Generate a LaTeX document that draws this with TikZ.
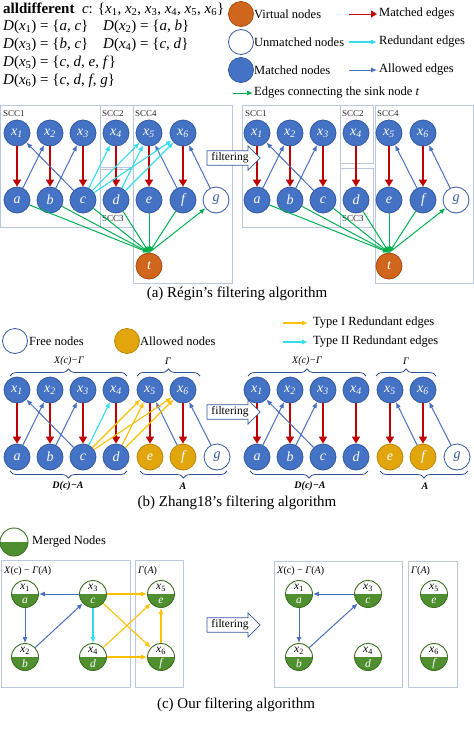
\documentclass[tikz,border=0pt]{standalone}
\usepackage{fontspec}
\setmainfont{Liberation Serif}
\usetikzlibrary{arrows.meta,shapes.arrows,decorations.pathreplacing,calc}
\definecolor{nblue}{HTML}{4472C4}
\definecolor{nblueD}{HTML}{34599E}
\definecolor{mred}{HTML}{C00000}
\definecolor{rcyan}{HTML}{33DDEE}
\definecolor{ablue}{HTML}{4A6FC0}
\definecolor{sgreen}{HTML}{00B050}
\definecolor{gold}{HTML}{E2A60C}
\definecolor{goldD}{HTML}{B8860B}
\definecolor{yedgec}{HTML}{FFC000}
\definecolor{tor}{HTML}{D0651C}
\definecolor{torD}{HTML}{A84A10}
\definecolor{boxc}{HTML}{B8C8E0}
\definecolor{mgM}{HTML}{4F8F2F}
\definecolor{mgD}{HTML}{3C7022}
\definecolor{braceb}{HTML}{2F4F8F}
\newcommand{\fsz}[1]{\fontsize{#1}{#1}\selectfont}
\newcommand{\vx}[1]{\textit{x}\textsubscript{#1}}
\tikzset{
  nd/.style={circle, minimum size=26pt, inner sep=0pt, line width=0.8pt, font=\fsz{14}\itshape},
  mb/.style={nd, fill=nblue, draw=nblueD, text=white},
  ub/.style={nd, fill=white, draw=nblueD, text=nblueD},
  gb/.style={nd, fill=gold, draw=goldD, text=white},
  tb/.style={nd, fill=tor, draw=torD, text=white},
  mg/.style={circle, minimum size=27pt, inner sep=0pt, draw=mgD, line width=0.9pt, fill=white,
    path picture={\fill[mgM] (path picture bounding box.west) rectangle (path picture bounding box.south east);}},
  mgtop/.style={inner sep=0pt, font=\fsz{11.5}, text=black},
  mgbot/.style={inner sep=0pt, font=\fsz{11.5}\itshape, text=white},
  medge/.style={draw=mred, line width=1.6pt, -{Triangle[width=8pt,length=7pt]}},
  medgeL/.style={draw=mred, line width=1pt, -{Triangle[width=7pt,length=6pt]}},
  aedge/.style={draw=ablue, line width=1pt, -{Latex[length=6pt,width=5pt]}},
  redge/.style={draw=rcyan, line width=1.1pt, -{Latex[length=6pt,width=5pt]}},
  yedge/.style={draw=yedgec, line width=1.1pt, -{Latex[length=6pt,width=5pt]}},
  sedge/.style={draw=sgreen, line width=1pt, -{Latex[length=6pt,width=5pt]}},
  sccbox/.style={draw=boxc, line width=0.9pt},
  scclab/.style={anchor=west, inner sep=0pt, font=\fsz{9}, text=black!85},
  tl/.style={anchor=west, inner sep=0pt, font=\fsz{15}},
  lg/.style={anchor=west, inner sep=0pt, font=\fsz{12.5}},
  captxt/.style={inner sep=0pt, font=\fsz{15}},
  filt/.style={single arrow, draw=nblueD, fill=white, line width=0.8pt, minimum height=53pt,
    single arrow head extend=5pt, inner sep=1.5pt, font=\fsz{11.5}, text=black},
  brc/.style={draw=braceb, line width=0.8pt, decorate, decoration={brace, amplitude=7pt}},
  brlab/.style={inner sep=0pt, font=\fsz{10}\itshape},
  arlab/.style={anchor=west, inner sep=0pt, font=\fsz{10}},
}
\begin{document}
\begin{tikzpicture}[x=1pt,y=-1pt]
\useasboundingbox (0,0) rectangle (474,737);

% ---------- header text
\node[tl] (hd0) at (3,9) {\textbf{alldifferent}\ \ \textit{c}: \{\vx{1}, \vx{2}, \vx{3}, \vx{4}, \vx{5}, \vx{6}\}};
\node[tl] (hd1) at (3,27) {\textit{D}(\vx{1}) = \{\textit{a}, \textit{c}\}};
\node[tl] (hd2) at (103,27) {\textit{D}(\vx{2}) = \{\textit{a}, \textit{b}\}};
\node[tl] (hd3) at (3,45) {\textit{D}(\vx{3}) = \{\textit{b}, \textit{c}\}};
\node[tl] (hd4) at (103,45) {\textit{D}(\vx{4}) = \{\textit{c}, \textit{d}\}};
\node[tl] (hd5) at (3,63) {\textit{D}(\vx{5}) = \{\textit{c}, \textit{d}, \textit{e}, \textit{f}\}};
\node[tl] (hd6) at (3,81) {\textit{D}(\vx{6}) = \{\textit{c}, \textit{d}, \textit{f}, \textit{g}\}};

% ---------- legend (a)
\node[tb, minimum size=25pt] (lgv) at (241,14) {};
\node[lg] (lgvt) at (254,14) {Virtual nodes};
\node[ub, minimum size=25pt] (lgu) at (241,42) {};
\node[lg] (lgut) at (254,42) {Unmatched nodes};
\node[mb, minimum size=25pt] (lgm) at (241,70) {};
\node[lg] (lgmt) at (254,70) {Matched nodes};
\coordinate (lr1) at (349,14); \coordinate (lr2) at (377,14);
\draw[medgeL] (lr1) -- (lr2);
\node[lg] (lrt) at (379,14) {Matched edges};
\coordinate (lc1) at (349,42); \coordinate (lc2) at (377,42);
\draw[redge] (lc1) -- (lc2);
\node[lg] (lct) at (379,42) {Redundant edges};
\coordinate (lb1) at (349,70); \coordinate (lb2) at (377,70);
\draw[aedge] (lb1) -- (lb2);
\node[lg] (lbt) at (379,70) {Allowed edges};
\coordinate (lsg1) at (233,93); \coordinate (lsg2) at (253,93);
\draw[sedge] (lsg1) -- (lsg2);
\node[lg] (lsgt) at (254,93) {Edges connecting the sink node \textit{t}};

% ---------- (a) boxes
\draw[sccbox] (0.5,105) rectangle (100,227);
\draw[sccbox] (100,105) rectangle (133,167);
\draw[sccbox] (100,169) rectangle (133,227);
\draw[sccbox] (133,105) rectangle (232,283);
\node[scclab] (s1l) at (3,114) {SCC1};
\node[scclab] (s2l) at (102,114) {SCC2};
\node[scclab] (s4l) at (135,114) {SCC4};
\node[scclab] (s3l) at (102,219) {SCC3};
\draw[sccbox] (242,105) rectangle (340,227);
\draw[sccbox] (340,105) rectangle (373,163);
\draw[sccbox] (340,168) rectangle (373,227);
\draw[sccbox] (375,105) rectangle (473,283);
\node[scclab] (s1r) at (245,114) {SCC1};
\node[scclab] (s2r) at (342,114) {SCC2};
\node[scclab] (s4r) at (377,114) {SCC4};
\node[scclab] (s3r) at (342,219) {SCC3};

% ---------- (a) graphs
\foreach \P/\dx in {AL/0,AR/240}{
  \foreach \i/\xx in {1/17,2/50,3/83,4/116,5/149,6/183}
    \node[mb] (\P x\i) at (\dx+\xx,133) {\vx{\i}};
  \foreach \n/\xx in {a/17,b/50,c/83,d/116,e/149,f/183}
    \node[mb] (\P\n) at (\dx+\xx,200) {\n};
  \node[ub] (\P g) at (\dx+216,200) {g};
  \node[tb] (\P t) at (\dx+149,266) {t};
  \foreach \i/\n in {1/a,2/b,3/c,4/d,5/e,6/f}
    \draw[medge] (\P x\i) -- (\P\n);
  \draw[aedge] (\P a) -- (\P x2);
  \draw[aedge] (\P b) -- (\P x3);
  \draw[aedge] (\P c) -- (\P x1);
  \draw[aedge] (\P f) -- (\P x5);
  \draw[aedge] (\P g) -- (\P x6);
  \foreach \n in {a,b,c,d,e,f}
    \draw[sedge] (\P\n) -- (\P t.north);
  \draw[sedge] (\P t.north) -- (\P g);
}
\draw[redge] (ALc) -- (ALx4);
\draw[redge] (ALc) -- (ALx5);
\draw[redge] (ALc) -- (ALx6);
\draw[redge] (ALd) -- (ALx5);
\draw[redge] (ALd) -- (ALx6);
\node[filt] (fa) at (230,158) {filtering};
\node[captxt] (capa) at (237,294) {(a) Régin’s filtering algorithm};

% ---------- legend (b)
\node[ub, minimum size=25pt] (lgf) at (15,341) {};
\node[lg] (lgft) at (29,341) {Free nodes};
\node[gb, minimum size=25pt] (lga) at (127,341) {};
\node[lg] (lgat) at (140,341) {Allowed nodes};
\coordinate (ly1) at (283,323); \coordinate (ly2) at (308,323);
\draw[yedge] (ly1) -- (ly2);
\node[lg] (lyt) at (313,323) {Type I Redundant edges};
\coordinate (lq1) at (283,342); \coordinate (lq2) at (308,342);
\draw[redge] (lq1) -- (lq2);
\node[lg] (lqt) at (313,342) {Type II Redundant edges};

% ---------- (b) graphs
\foreach \P/\dx in {BL/0,BR/240}{
  \foreach \i/\xx in {1/17,2/50,3/83,4/116,5/150,6/183}
    \node[mb] (\P x\i) at (\dx+\xx,390) {\vx{\i}};
  \foreach \n/\xx in {a/17,b/50,c/83,d/116}
    \node[mb] (\P\n) at (\dx+\xx,457) {\n};
  \foreach \n/\xx in {e/150,f/183}
    \node[gb] (\P\n) at (\dx+\xx,457) {\n};
  \node[ub] (\P g) at (\dx+217,457) {g};
  \foreach \i/\n in {1/a,2/b,3/c,4/d,5/e,6/f}
    \draw[medge] (\P x\i) -- (\P\n);
  \draw[aedge] (\P a) -- (\P x2);
  \draw[aedge] (\P b) -- (\P x3);
  \draw[aedge] (\P c) -- (\P x1);
  \draw[aedge] (\P f) -- (\P x5);
  \draw[aedge] (\P g) -- (\P x6);
}
\draw[redge] (BLc) -- (BLx4);
\draw[yedge] (BLc) -- (BLx5);
\draw[yedge] (BLc) -- (BLx6);
\draw[yedge] (BLd) -- (BLx5);
\draw[yedge] (BLd) -- (BLx6);
\node[filt] (fb) at (230,412) {filtering};

% braces (b)
\coordinate (bt1a) at (10,376);  \coordinate (bt1b) at (127,376);
\coordinate (bt2a) at (137,376); \coordinate (bt2b) at (200,376);
\coordinate (bt3a) at (248,376); \coordinate (bt3b) at (366,376);
\coordinate (bt4a) at (376,376); \coordinate (bt4b) at (436,376);
\draw[brc] (bt1a) -- (bt1b);
\draw[brc] (bt2a) -- (bt2b);
\draw[brc] (bt3a) -- (bt3b);
\draw[brc] (bt4a) -- (bt4b);
\node[brlab] (btl1) at (69,361) {X(c)−Γ};
\node[brlab] (btl2) at (168,361) {Γ};
\node[brlab] (btl3) at (307,361) {X(c)−Γ};
\node[brlab] (btl4) at (406,361) {Γ};
\coordinate (bb1a) at (10,471);  \coordinate (bb1b) at (127,471);
\coordinate (bb2a) at (140,471); \coordinate (bb2b) at (227,471);
\coordinate (bb3a) at (250,471); \coordinate (bb3b) at (368,471);
\coordinate (bb4a) at (380,471); \coordinate (bb4b) at (468,471);
\draw[brc] (bb1b) -- (bb1a);
\draw[brc] (bb2b) -- (bb2a);
\draw[brc] (bb3b) -- (bb3a);
\draw[brc] (bb4b) -- (bb4a);
\node[brlab, font=\fsz{10}\bfseries\itshape] (bbl1) at (68,486) {D(c)−A};
\node[brlab, font=\fsz{10}\bfseries\itshape] (bbl2) at (183,486) {A};
\node[brlab, font=\fsz{10}\bfseries\itshape] (bbl3) at (310,486) {D(c)−A};
\node[brlab, font=\fsz{10}\bfseries\itshape] (bbl4) at (425,486) {A};
\node[captxt] (capb) at (237,503) {(b) Zhang18’s filtering algorithm};

% ---------- legend (c)
\node[mg, minimum size=28pt] (lgmg) at (14,542) {};
\node[lg] (lgmgt) at (32,542) {Merged Nodes};

% ---------- (c) boxes
\draw[sccbox] (1,560) rectangle (130,687);
\draw[sccbox] (135,560) rectangle (183,687);
\draw[sccbox] (274,561) rectangle (402,687);
\draw[sccbox] (408,561) rectangle (457,687);
\node[arlab] (cl1) at (4,571) {\textit{X}(c) − \textit{Γ}(\textit{A})};
\node[arlab] (cl2) at (138,571) {\textit{Γ}(\textit{A})};
\node[arlab] (cl3) at (277,571) {\textit{X}(c) − \textit{Γ}(\textit{A})};
\node[arlab] (cl4) at (411,571) {\textit{Γ}(\textit{A})};

% ---------- (c) graphs
\foreach \P/\xa/\xb/\xc in {CL/25/93/161,CR/299/368/434}{
  \foreach \i/\n/\xx/\yy in {1/a/\xa/594,3/c/\xb/594,5/e/\xc/594,2/b/\xa/657,4/d/\xb/657,6/f/\xc/657}{
    \node[mg] (\P m\i) at (\xx,\yy) {};
    \node[mgtop] (\P m\i t) at ([yshift=6.5pt]\P m\i.center) {\vx{\i}};
    \node[mgbot] (\P m\i b) at ([yshift=-6.5pt]\P m\i.center) {\n};
  }
  \draw[aedge] (\P m3) -- (\P m1);
  \draw[aedge] (\P m1) -- (\P m2);
  \draw[aedge] (\P m2) -- (\P m3);
}
\draw[redge] (CLm3) -- (CLm4);
\draw[yedge] (CLm3) -- (CLm5);
\draw[yedge] (CLm3) -- (CLm6);
\draw[yedge] (CLm4) -- (CLm5);
\draw[yedge] (CLm4) -- (CLm6);
\draw[yedge] (CLm6) -- (CLm5);
\node[filt] (fc) at (230,625) {filtering};
\node[captxt] (capc) at (236,705) {(c) Our filtering algorithm};
\end{tikzpicture}
\end{document}
